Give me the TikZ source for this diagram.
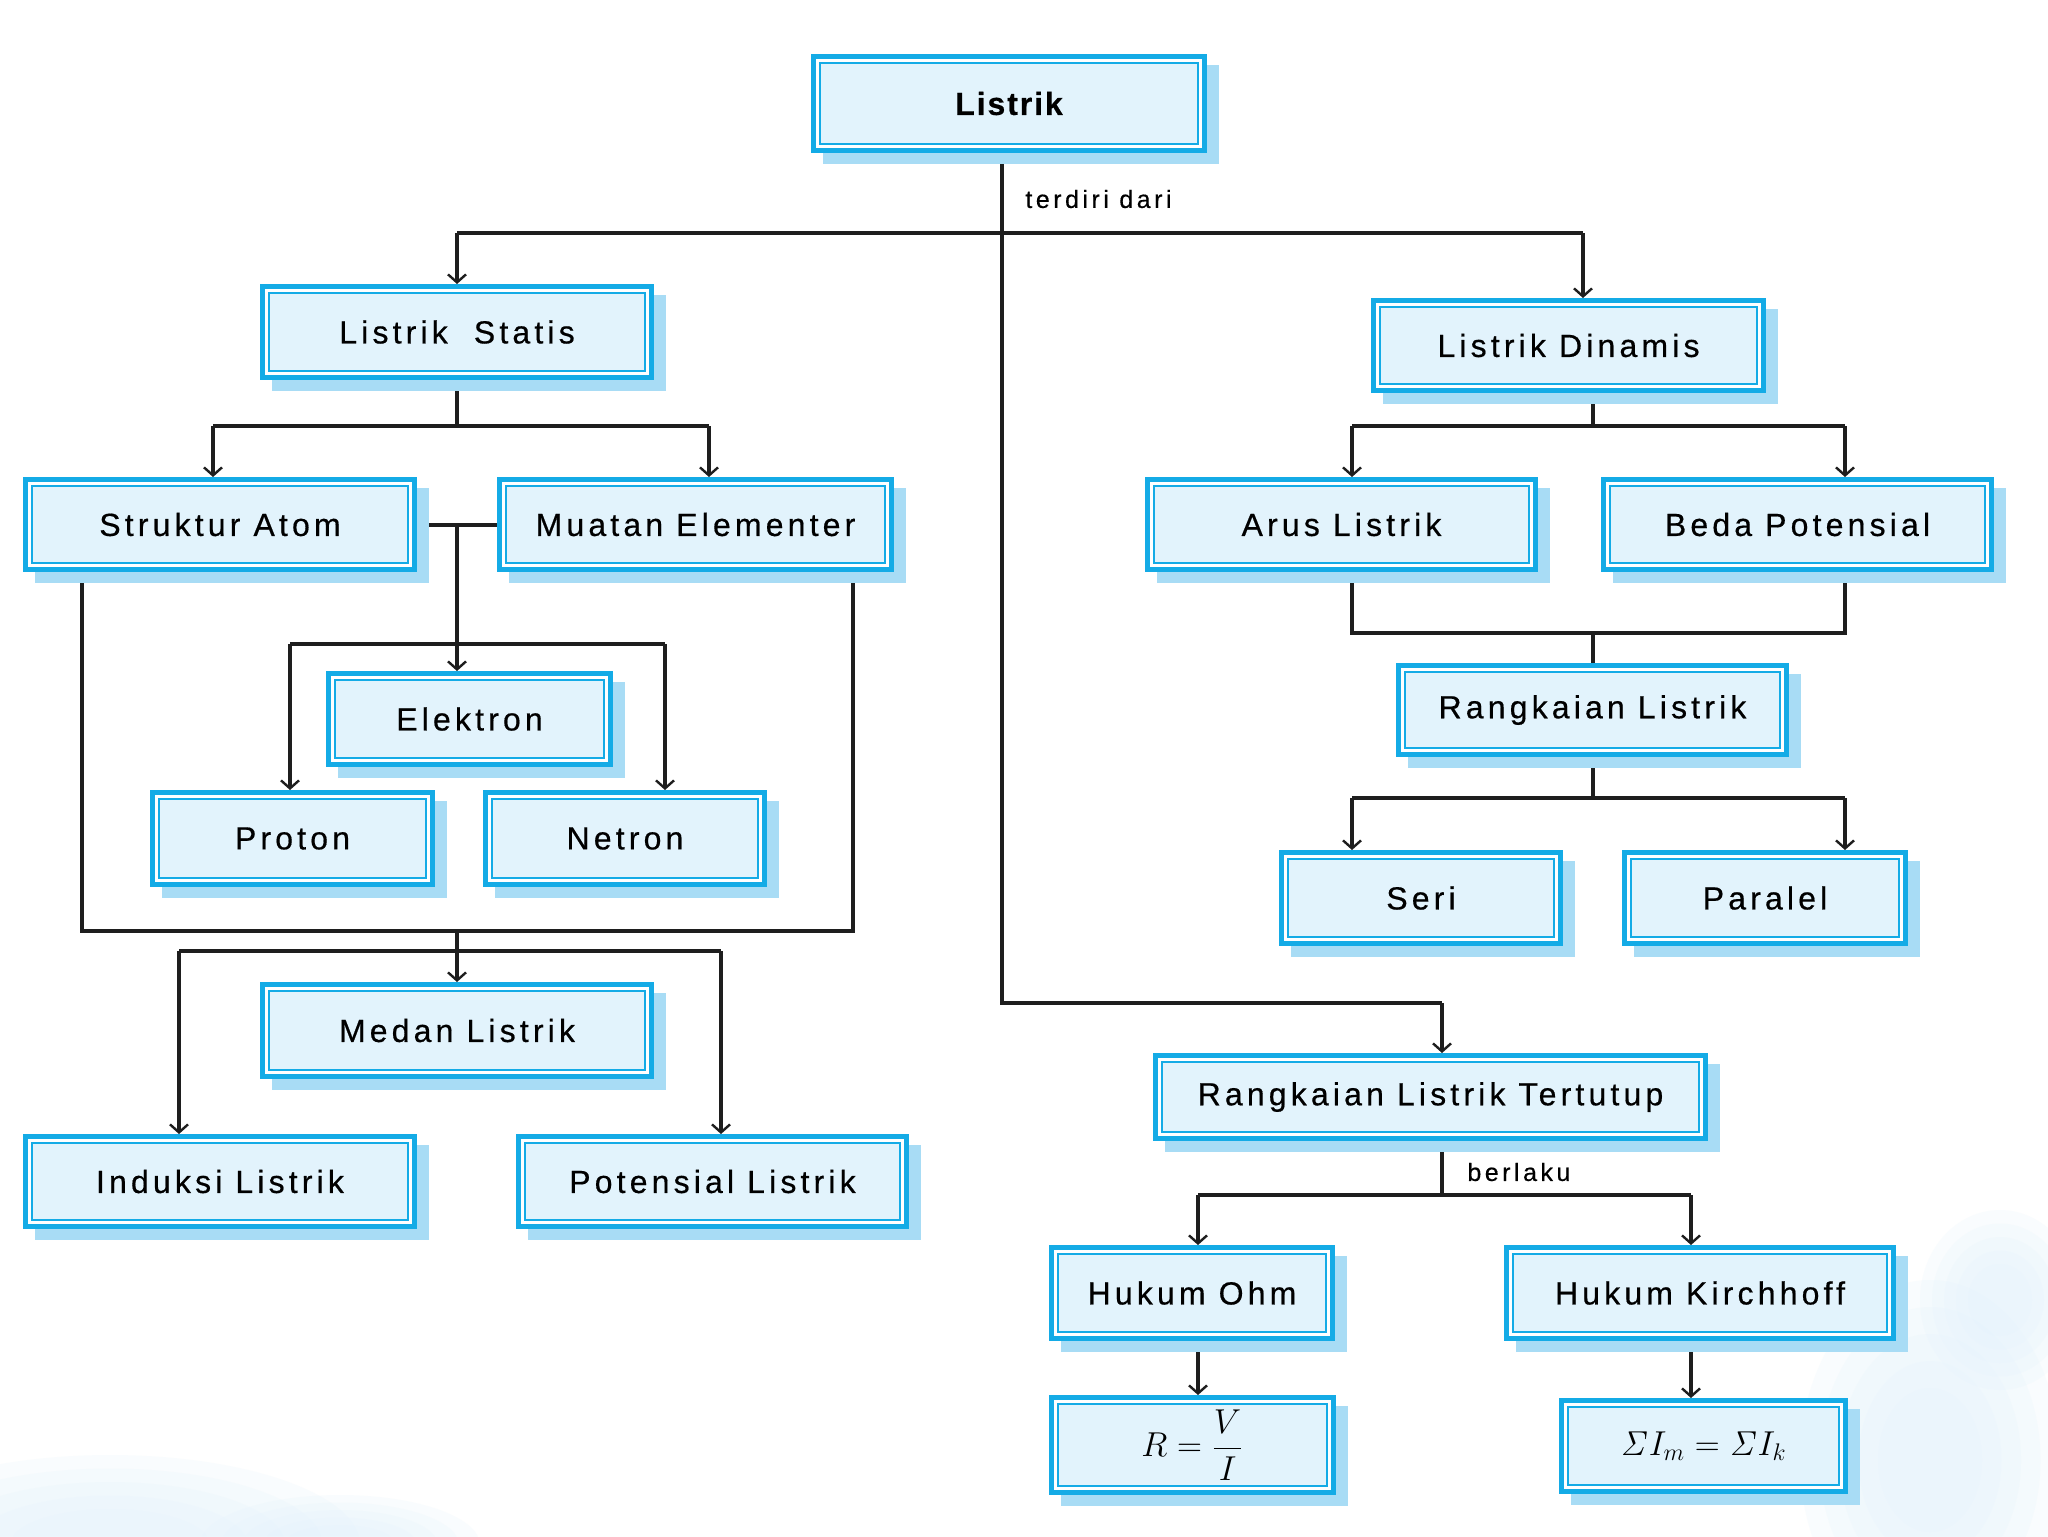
\documentclass[tikz,border=0pt]{standalone}
\usepackage[no-math]{fontspec}
\setmainfont{Liberation Sans}
\newfontfamily\boxfont[LetterSpace=13,FakeBold=0.5]{Liberation Sans}
\newfontfamily\lblfont[LetterSpace=14,FakeBold=0.4]{Liberation Sans}
\usetikzlibrary{arrows.meta,backgrounds}
\definecolor{cyanc}{HTML}{14ABE6}
\definecolor{fillc}{HTML}{E2F3FC}
\definecolor{shadc}{HTML}{A8DCF5}
\definecolor{linec}{HTML}{1E1E1E}
\definecolor{cloudc}{HTML}{E4F3FC}
\newcommand\bx[6]{%
  \fill[shadc] ({#2+12},{#3+11}) rectangle ({#4+12},{#5+11});
  \node[box, minimum width={(#4-#2-4.8)*0.5pt}, minimum height={(#5-#3-4.8)*0.5pt}] (#1) at ({(#2+#4)/2},{(#3+#5)/2}) {#6};}
\newcommand\cloudblob[4]{%
  \foreach \s in {1.0,0.85,0.7,0.55,0.4}
    {\fill[cloudc, opacity=0.22] (#1,#2) ellipse [x radius={#3*\s}, y radius={#4*\s}];}}
\begin{document}
\begin{tikzpicture}[x=0.5pt,y=-0.5pt,
  box/.style={draw=cyanc, line width=2.4pt, fill=white, inner sep=0pt,
    font=\boxfont\fontsize{16}{19}\selectfont, text=black,
    path picture={\draw[cyanc, line width=1.4pt, fill=fillc]
      ([shift={(3.3pt,3.3pt)}]path picture bounding box.south west) rectangle
      ([shift={(-3.3pt,-3.3pt)}]path picture bounding box.north east);}},
  conn/.style={draw=linec, line width=1.6pt},
  arr/.style={conn, -{Straight Barb[length=4pt,width=9pt,line width=1.2pt]}},
  lbl/.style={font=\lblfont\fontsize{12.5}{15}\selectfont, anchor=west, inner sep=0pt}]
\useasboundingbox (0,0) rectangle (2048,1536);
\begin{pgfonlayer}{background}
  \fill[white] (0,0) rectangle (2048,1536);
  % faint background clouds
  \cloudblob{1930}{1460}{130}{180}
  \cloudblob{2000}{1300}{80}{90}
  \cloudblob{110}{1545}{250}{90}
  \cloudblob{340}{1545}{140}{50}
\end{pgfonlayer}

% boxes
\bx{listrik}{811}{54}{1207}{153}{\bfseries\addfontfeature{LetterSpace=6}Listrik}
\bx{statis}{260}{284}{654}{380}{Listrik\ \ Statis}
\bx{dinamis}{1371}{298}{1766}{393}{Listrik Dinamis}
\bx{atom}{23}{477}{417}{572}{Struktur Atom}
\bx{muatan}{497}{477}{894}{572}{Muatan Elementer}
\bx{arus}{1145}{477}{1538}{572}{Arus Listrik}
\bx{beda}{1601}{477}{1994}{572}{Beda Potensial}
\bx{elektron}{326}{671}{613}{767}{Elektron}
\bx{proton}{150}{790}{435}{887}{Proton}
\bx{netron}{483}{790}{767}{887}{Netron}
\bx{rangkaian}{1396}{663}{1789}{757}{Rangkaian Listrik}
\bx{seri}{1279}{850}{1563}{946}{Seri}
\bx{paralel}{1622}{850}{1908}{946}{Paralel}
\bx{medan}{260}{982}{654}{1079}{Medan Listrik}
\bx{induksi}{23}{1134}{417}{1229}{Induksi Listrik}
\bx{potensial}{516}{1134}{909}{1229}{Potensial Listrik}
\bx{tertutup}{1153}{1053}{1708}{1141}{Rangkaian Listrik Tertutup}
\bx{ohm}{1049}{1245}{1335}{1341}{Hukum Ohm}
\bx{kirch}{1504}{1245}{1896}{1341}{Hukum Kirchhoff}
\bx{ohmf}{1049}{1395}{1336}{1495}{\fontsize{18}{22}\selectfont$\displaystyle R=\frac{V}{I}$}
\bx{kirchf}{1559}{1398}{1848}{1494}{\fontsize{18}{22}\selectfont$\mathit{\Sigma} I_m=\mathit{\Sigma} I_k$}

\node[lbl] (terdiri) at (1025,199) {terdiri dari};
\node[lbl] (berlaku) at (1467,1172) {berlaku};

\begin{pgfonlayer}{background}
% top level
\coordinate (a0) at (1002,233);
\coordinate (aL) at (457,233);
\coordinate (aR) at (1583,233);
\coordinate (a1) at (1002,1003);
\coordinate (a2) at (1442,1003);
\draw[conn] (a0 |- listrik.south) -- (a1) -- (a2);
\draw[arr] (a2) -- (a2 |- tertutup.north);
\draw[conn] (aL) -- (aR);
\draw[arr] (aL) -- (aL |- statis.north);
\draw[arr] (aR) -- (aR |- dinamis.north);
% statis
\coordinate (b0) at (457,426);
\coordinate (b1) at (213,426);
\coordinate (b2) at (709,426);
\draw[conn] (b0 |- statis.south) -- (b0);
\draw[conn] (b1) -- (b2);
\draw[arr] (b1) -- (b1 |- atom.north);
\draw[arr] (b2) -- (b2 |- muatan.north);
% atom - muatan
\coordinate (c0) at (457,525);
\coordinate (c1) at (290,644);
\coordinate (c2) at (665,644);
\draw[conn] (c0 -| atom.east) -- (c0 -| muatan.west);
\draw[arr] (c0) -- (c0 |- elektron.north);
\draw[conn] (c1) -- (c2);
\draw[arr] (c1) -- (c1 |- proton.north);
\draw[arr] (c2) -- (c2 |- netron.north);
% outer loop
\coordinate (d0) at (457,931);
\coordinate (d1) at (82,931);
\coordinate (d2) at (853,931);
\draw[conn] (d1 |- atom.south) -- (d1) -- (d2) -- (d2 |- muatan.south);
\draw[arr] (d0) -- (d0 |- medan.north);
\coordinate (e1) at (179,951);
\coordinate (e2) at (721,951);
\draw[conn] (e1) -- (e2);
\draw[arr] (e1) -- (e1 |- induksi.north);
\draw[arr] (e2) -- (e2 |- potensial.north);
% dinamis
\coordinate (f0) at (1593,426);
\coordinate (f1) at (1352,426);
\coordinate (f2) at (1845,426);
\draw[conn] (f0 |- dinamis.south) -- (f0);
\draw[conn] (f1) -- (f2);
\draw[arr] (f1) -- (f1 |- arus.north);
\draw[arr] (f2) -- (f2 |- beda.north);
\coordinate (g0) at (1593,633);
\coordinate (g1) at (1352,633);
\coordinate (g2) at (1845,633);
\draw[conn] (g1 |- arus.south) -- (g1) -- (g2) -- (g2 |- beda.south);
\draw[conn] (g0) -- (g0 |- rangkaian.north);
\coordinate (h0) at (1593,798);
\coordinate (h1) at (1352,798);
\coordinate (h2) at (1845,798);
\draw[conn] (h0 |- rangkaian.south) -- (h0);
\draw[conn] (h1) -- (h2);
\draw[arr] (h1) -- (h1 |- seri.north);
\draw[arr] (h2) -- (h2 |- paralel.north);
% tertutup
\coordinate (k0) at (1442,1195);
\coordinate (k1) at (1198,1195);
\coordinate (k2) at (1691,1195);
\draw[conn] (k0 |- tertutup.south) -- (k0);
\draw[conn] (k1) -- (k2);
\draw[arr] (k1) -- (k1 |- ohm.north);
\draw[arr] (k2) -- (k2 |- kirch.north);
\draw[arr] (k1 |- ohm.south) -- (k1 |- ohmf.north);
\draw[arr] (k2 |- kirch.south) -- (k2 |- kirchf.north);
\end{pgfonlayer}
\end{tikzpicture}
\end{document}
